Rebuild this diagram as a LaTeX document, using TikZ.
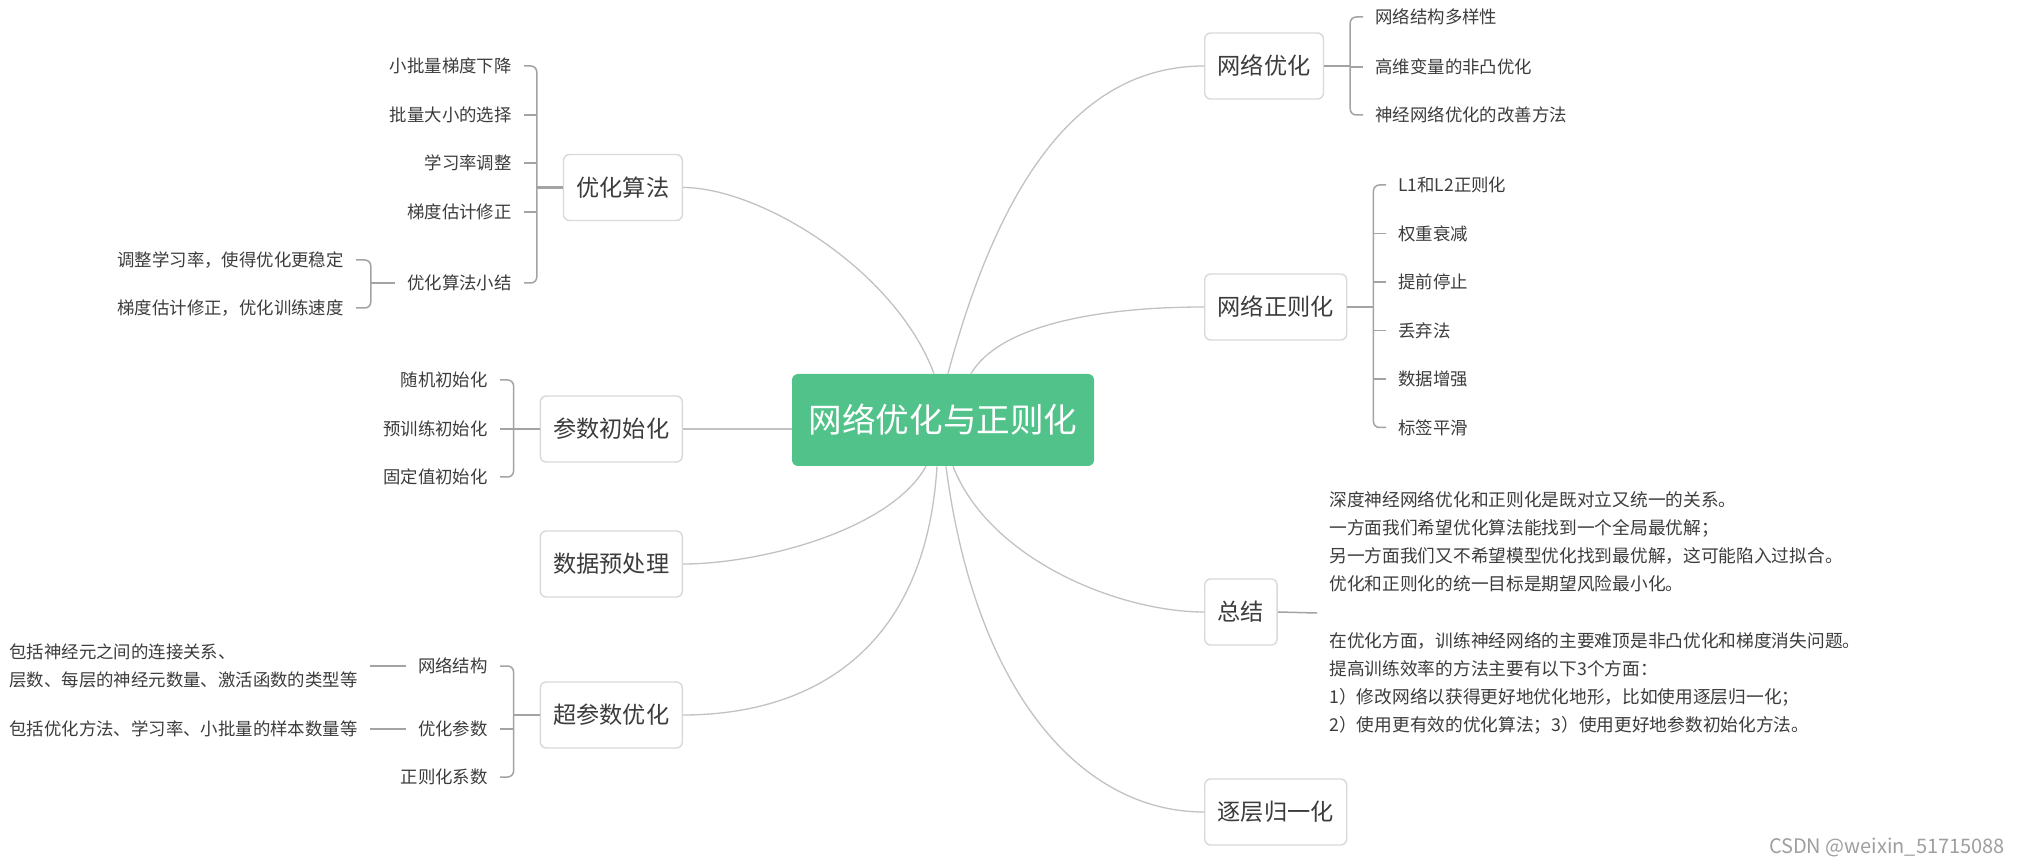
\documentclass[tikz,border=0pt]{standalone}
\usepackage{fontspec}
\setmainfont{Noto Sans CJK SC}
\usetikzlibrary{positioning}

\definecolor{rootgreen}{HTML}{52C28B}
\definecolor{inkgray}{HTML}{3C3C3C}
\definecolor{framegray}{HTML}{D9D9D9}
\definecolor{linkgray}{HTML}{C2C2C2}
\definecolor{bargray}{HTML}{A3A3A3}

\begin{document}
\begin{tikzpicture}[
        x=0.5pt, y=-0.5pt,
        root/.style={rectangle, fill=rootgreen, text=white, rounded corners=3pt,
            minimum width=151pt, minimum height=46pt, font=\fontsize{16.8pt}{20pt}\selectfont},
        topic/.style={rectangle, draw=framegray, fill=white, line width=0.7pt, rounded corners=3pt,
            inner xsep=6.5pt, minimum height=33pt, text=inkgray, font=\fontsize{11.6pt}{14pt}\selectfont},
        leaf/.style={inner xsep=6pt, inner ysep=1pt, text=inkgray, align=left,
            font=\fontsize{8.7pt}{14pt}\selectfont},
        link/.style={draw=linkgray, line width=0.65pt},
        trunk/.style={draw=bargray, line width=1.3pt},
        twig/.style={draw=bargray, line width=0.75pt, rounded corners=3pt}
    ]

    \path[use as bounding box, fill=white] (0,0) rectangle (2024,865);

    % Central topic
    \node[root] (root) at (943,420) {网络优化与正则化};

    % Main topics, left side
    \node[topic, anchor=east] (algo) at (683,187.5) {优化算法};
    \node[topic, anchor=east] (init) at (683,429) {参数初始化};
    \node[topic, anchor=east] (prep) at (683,564) {数据预处理};
    \node[topic, anchor=east] (hyper) at (683,715) {超参数优化};

    % Main topics, right side
    \node[topic, anchor=west] (netopt) at (1204,66) {网络优化};
    \node[topic, anchor=west] (reg) at (1204,307) {网络正则化};
    \node[topic, anchor=west] (summ) at (1204,612) {总结};
    \node[topic, anchor=west] (bn) at (1204,812) {逐层归一化};

    % Curved links from the centre
    \draw[link] ([xshift=-4.5pt]root.north) .. controls +(-39,-104) and +(77,0) .. (algo.east);
    \draw[link] (init.east) -- (init.east -| root.west);
    \draw[link] ([xshift=-8.5pt]root.south) .. controls +(-36,64) and +(77,0) .. (prep.east);
    \draw[link] ([xshift=-3pt]root.south) .. controls +(-12,194) and +(117,0) .. (hyper.east);
    \draw[link] ([xshift=2.5pt]root.north) .. controls +(52,-194) and +(-124,0) .. (netopt.west);
    \draw[link] ([xshift=14pt]root.north) .. controls +(29,-49) and +(-104,0) .. (reg.west);
    \draw[link] ([xshift=5pt]root.south) .. controls +(37,94) and +(-84,0) .. (summ.west);
    \draw[link] ([xshift=1.5pt]root.south) .. controls +(29,224) and +(-124,0) .. (bn.west);

    % Optimisation algorithms
    \node[leaf, anchor=east] (algo-1) at (524,66) {小批量梯度下降};
    \node[leaf, anchor=east] (algo-2) at (524,115) {批量大小的选择};
    \node[leaf, anchor=east] (algo-3) at (524,163) {学习率调整};
    \node[leaf, anchor=east] (algo-4) at (524,212) {梯度估计修正};
    \node[leaf, anchor=east] (algo-5) at (524,283) {优化算法小结};
    \coordinate[left=13pt of algo] (algo-bar);
    \draw[trunk] (algo.west) -- (algo-bar);
    \draw[twig] (algo-1.east) -| (algo-bar) |- (algo-5.east);
    \draw[twig] (algo-2.east) -- (algo-2.east -| algo-bar);
    \draw[twig] (algo-3.east) -- (algo-3.east -| algo-bar);
    \draw[twig] (algo-4.east) -- (algo-4.east -| algo-bar);

    \node[leaf, anchor=east] (sum-1) at (356,260) {调整学习率，使得优化更稳定};
    \node[leaf, anchor=east] (sum-2) at (356,308) {梯度估计修正，优化训练速度};
    \coordinate[left=12pt of algo-5] (sum-bar);
    \draw[trunk] (algo-5.west) -- (sum-bar);
    \draw[twig] (sum-1.east) -| (sum-bar) |- (sum-2.east);

    % Parameter initialisation
    \node[leaf, anchor=east] (init-1) at (500,380) {随机初始化};
    \node[leaf, anchor=east] (init-2) at (500,429) {预训练初始化};
    \node[leaf, anchor=east] (init-3) at (500,477) {固定值初始化};
    \coordinate[left=13pt of init] (init-bar);
    \draw[trunk] (init.west) -- (init-bar);
    \draw[twig] (init-1.east) -| (init-bar) |- (init-3.east);
    \draw[twig] (init-2.east) -- (init-2.east -| init-bar);

    % Hyperparameters
    \node[leaf, anchor=east] (hyper-1) at (500,666) {网络结构};
    \node[leaf, anchor=east] (hyper-2) at (500,729) {优化参数};
    \node[leaf, anchor=east] (hyper-3) at (500,777) {正则化系数};
    \coordinate[left=13pt of hyper] (hyper-bar);
    \draw[trunk] (hyper.west) -- (hyper-bar);
    \draw[twig] (hyper-1.east) -| (hyper-bar) |- (hyper-3.east);
    \draw[twig] (hyper-2.east) -- (hyper-2.east -| hyper-bar);

    \node[leaf, anchor=east] (note-1) at (370,666) {包括神经元之间的连接关系、\\层数、每层的神经元数量、激活函数的类型等};
    \node[leaf, anchor=east] (note-2) at (370,729) {包括优化方法、学习率、小批量的样本数量等};
    \draw[twig] (hyper-1.west) -- (note-1.east);
    \draw[twig] (hyper-2.west) -- (note-2.east);

    % Network optimisation
    \node[leaf, anchor=west] (netopt-1) at (1363,17) {网络结构多样性};
    \node[leaf, anchor=west] (netopt-2) at (1363,67) {高维变量的非凸优化};
    \node[leaf, anchor=west] (netopt-3) at (1363,115) {神经网络优化的改善方法};
    \coordinate[right=13pt of netopt] (netopt-bar);
    \draw[trunk] (netopt.east) -- (netopt-bar);
    \draw[twig] (netopt-1.west) -| (netopt-bar) |- (netopt-3.west);
    \draw[twig] (netopt-2.west) -- (netopt-2.west -| netopt-bar);

    % Regularisation
    \node[leaf, anchor=west] (reg-1) at (1386,185) {L1和L2正则化};
    \node[leaf, anchor=west] (reg-2) at (1386,233.5) {权重衰减};
    \node[leaf, anchor=west] (reg-3) at (1386,282) {提前停止};
    \node[leaf, anchor=west] (reg-4) at (1386,330.5) {丢弃法};
    \node[leaf, anchor=west] (reg-5) at (1386,379) {数据增强};
    \node[leaf, anchor=west] (reg-6) at (1386,427.5) {标签平滑};
    \coordinate[right=13pt of reg] (reg-bar);
    \draw[trunk] (reg.east) -- (reg-bar);
    \draw[twig] (reg-1.west) -| (reg-bar) |- (reg-6.west);
    \draw[twig] (reg-2.west) -- (reg-2.west -| reg-bar);
    \draw[twig] (reg-3.west) -- (reg-3.west -| reg-bar);
    \draw[twig] (reg-4.west) -- (reg-4.west -| reg-bar);
    \draw[twig] (reg-5.west) -- (reg-5.west -| reg-bar);

    % Summary text
    \node[leaf, anchor=west, font=\fontsize{8.85pt}{14.1pt}\selectfont] (summ-note) at (1317,613) {%
        深度神经网络优化和正则化是既对立又统一的关系。\\
        一方面我们希望优化算法能找到一个全局最优解；\\
        另一方面我们又不希望模型优化找到最优解，这可能陷入过拟合。\\
        优化和正则化的统一目标是期望风险最小化。\\[14.1pt]
        在优化方面，训练神经网络的主要难顶是非凸优化和梯度消失问题。\\
        提高训练效率的方法主要有以下3个方面：\\
        1）修改网络以获得更好地优化地形，比如使用逐层归一化；\\
        2）使用更有效的优化算法；3）使用更好地参数初始化方法。};
    \draw[twig] (summ.east) -- (summ-note.west);

    % Watermark
    \node[anchor=east, text=gray!75, font=\fontsize{10pt}{12pt}\selectfont] (mark) at (2012,847) {CSDN @weixin\_51715088};

\end{tikzpicture}
\end{document}
